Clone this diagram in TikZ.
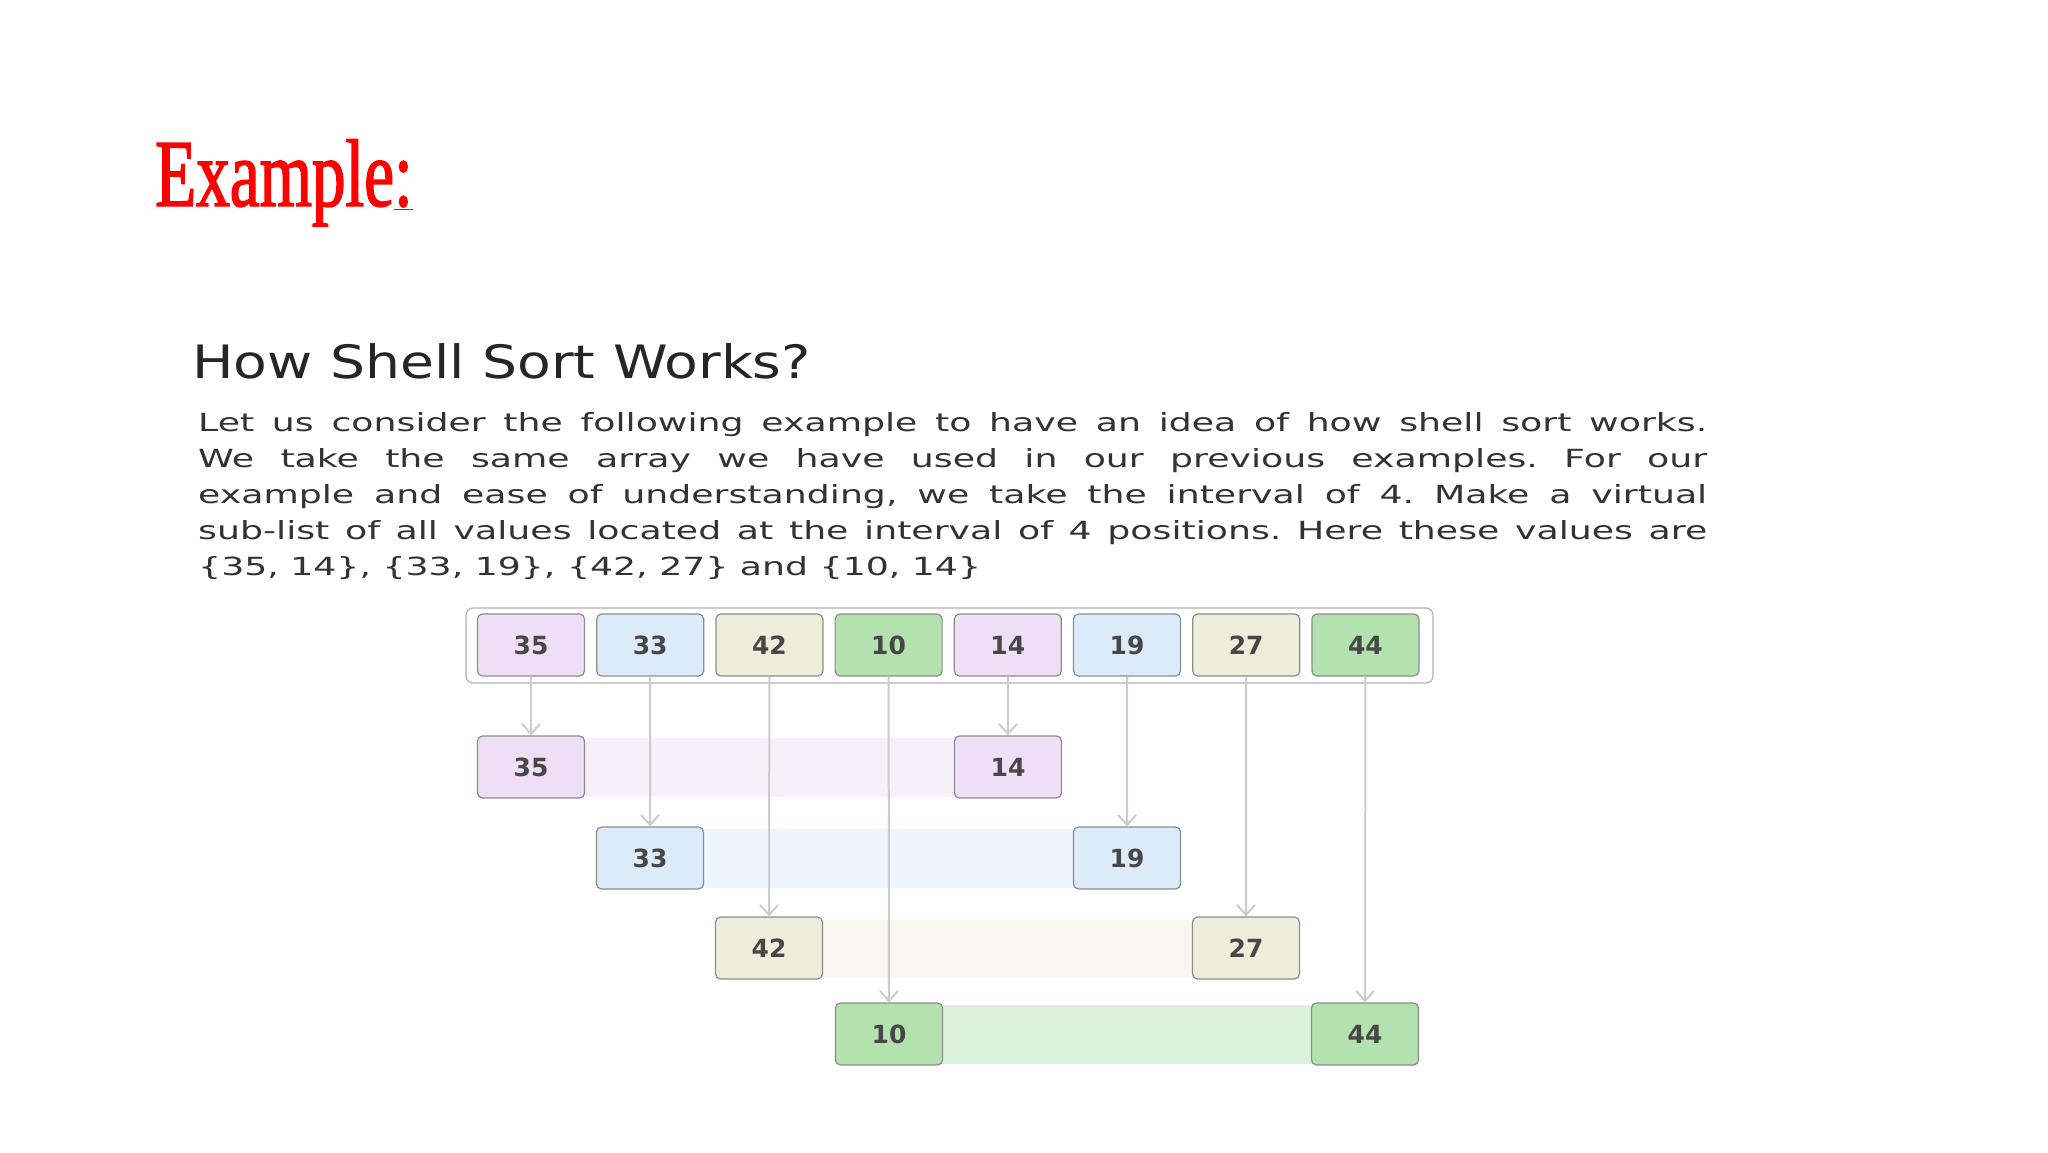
\documentclass[tikz,border=0pt]{standalone}
\usepackage{fontspec}
\setmainfont{DejaVu Sans}
\newfontfamily\exfont[FakeStretch=0.7,FakeBold=1.5]{Liberation Serif}
\newfontfamily\bodyfont[FakeStretch=1.45]{DejaVu Sans}
\newfontfamily\headfont[FakeStretch=1.2]{DejaVu Sans}
\newfontfamily\numfont{DejaVu Sans}
\usetikzlibrary{arrows.meta}
\definecolor{cP}{HTML}{EEDFF6}\definecolor{bP}{HTML}{F7F0FA}
\definecolor{cB}{HTML}{DCEBF9}\definecolor{bB}{HTML}{EEF5FC}
\definecolor{cO}{HTML}{EDEDDA}\definecolor{bO}{HTML}{F7F7EF}
\definecolor{cG}{HTML}{B3E2AE}\definecolor{bG}{HTML}{DDF2DA}
\definecolor{txt}{HTML}{333333}
\tikzset{cell/.style={draw=black!45,line width=1.2pt,rounded corners=5pt,minimum width=107pt,minimum height=62pt,inner sep=0pt,font=\numfont\bfseries\fontsize{25}{25}\selectfont,text=black!72},
 arr/.style={draw=black!20,line width=2pt,-{Straight Barb[length=10pt,width=18pt]}},
 band/.style={inner sep=0pt,minimum height=58pt}}
\begin{document}
\begin{tikzpicture}[x=1pt,y=-1pt]
\useasboundingbox (0,0) rectangle (2048,1152);
\fill[white] (0,0) rectangle (2048,1152);
\node[anchor=base west,inner sep=0pt,text=red,font=\exfont\fontsize{96}{96}\selectfont] (ex) at (155,206) {Example\underline{:}};
\node[anchor=base west,inner sep=0pt,text=black!85,font=\headfont\fontsize{46}{46}\selectfont] (h) at (192,378) {How Shell Sort Works?};
\node[anchor=base west,inner sep=0pt,text=txt,align=justify,text width=1509pt,font=\bodyfont\fontsize{25}{36}\selectfont] (body) at (198,431) {\frenchspacing Let us consider the following example to have an idea of how shell sort works.\linebreak We take the same array we have used in our previous examples. For our\linebreak example and ease of understanding, we take the interval of 4. Make a virtual\linebreak sub-list of all values located at the interval of 4 positions. Here these values are\linebreak \{35, 14\}, \{33, 19\}, \{42, 27\} and \{10, 14\}};
\draw[black!30,line width=1.2pt,rounded corners=7pt] (466,608) rectangle (1433,683);
% bands
\fill[bP] (531,738) rectangle (1010,797);
\fill[bB] (651,829) rectangle (1129,888);
\fill[bO] (772,920) rectangle (1250,978);
\fill[bG] (891,1005) rectangle (1369,1064);
\foreach \n/\v/\c [count=\i from 0] in {a/35/cP,b/33/cB,c/42/cO,d/10/cG,e/14/cP,f/19/cB,g/27/cO,h/44/cG}
  \node[cell,fill=\c] (t\n) at ({531+119.2*\i},645) {\v};
\node[cell,fill=cP] (ra) at (531,767) {35};
\node[cell,fill=cP] (re) at (1008,767) {14};
\node[cell,fill=cB] (rb) at (650,858) {33};
\node[cell,fill=cB] (rf) at (1127,858) {19};
\node[cell,fill=cO] (rc) at (769,948) {42};
\node[cell,fill=cO] (rg) at (1246,948) {27};
\node[cell,fill=cG] (rd) at (889,1034) {10};
\node[cell,fill=cG] (rh) at (1365,1034) {44};
\foreach \n in {a,b,c,d,e,f,g,h}
  \draw[arr] (t\n.south) -- (r\n.north);
\end{tikzpicture}
\end{document}
